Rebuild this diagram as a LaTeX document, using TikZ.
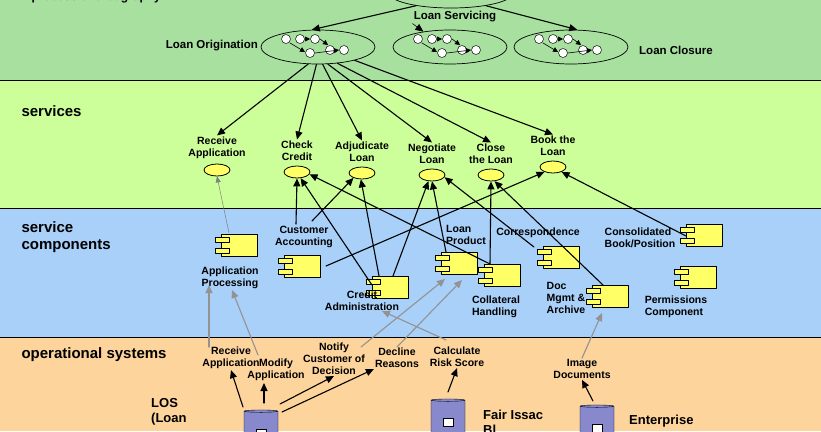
\documentclass[tikz,border=0pt]{standalone}
\usepackage{fontspec}
\setmainfont{Liberation Sans}
\usetikzlibrary{arrows.meta,shapes.geometric,calc}
\definecolor{bandtop}{HTML}{A8E0A0}
\definecolor{bandsrv}{HTML}{CCFF99}
\definecolor{bandcmp}{HTML}{A8D0F8}
\definecolor{bandops}{HTML}{FCD49C}
\definecolor{compyel}{HTML}{FFFF66}
\definecolor{dbblue}{HTML}{8888CC}
\tikzset{
  comp/.pic={
    \draw[fill=compyel,line width=0.8pt] (-18,-11) rectangle (18,11);
    \draw[fill=compyel,line width=0.8pt] (-24,-8) rectangle (-10,-3);
    \draw[fill=compyel,line width=0.8pt] (-24,3) rectangle (-10,8);
  },
  flow/.pic={
    \foreach \px/\py in {-32/-8,-18/-8,-3/-8,12/3,-8/6,26/3}
      \draw[fill=white,line width=0.5pt] (\px,\py) circle (4.5);
    \draw[-{Triangle[length=5pt,width=5pt]},line width=0.6pt] (-13,-8) -- (-8,-8);
    \draw[-{Triangle[length=5pt,width=5pt]},line width=0.6pt] (2,-8) -- (10,-2);
    \draw[-{Triangle[length=5pt,width=5pt]},line width=0.6pt] (-28,-4) -- (-13,5);
    \draw[-{Triangle[length=5pt,width=5pt]},line width=0.6pt] (-3,6) -- (21,3);
  }
}
\begin{document}
\begin{tikzpicture}[x=1pt,y=-1pt,line cap=round,line join=round,
  lbl/.style={font=\bfseries\fontsize{10.5}{12}\selectfont,align=center,inner sep=1pt},
  band/.style={font=\bfseries\fontsize{15}{17}\selectfont,align=left,anchor=west},
  svc/.style={ellipse,draw,fill=compyel,line width=0.8pt,minimum width=26pt,minimum height=12pt,inner sep=0pt},
  proc/.style={ellipse,draw,line width=0.7pt,minimum width=114pt,minimum height=34pt},
  db/.style={cylinder,shape border rotate=90,aspect=0.35,draw,fill=dbblue,minimum width=34pt,minimum height=44pt},
  blk/.style={-{Triangle[length=8pt,width=7pt]},line width=1.1pt},
  gry/.style={-{Triangle[length=8pt,width=7pt]},line width=1.1pt,draw=gray!85,color=gray!85}]
\useasboundingbox (0,0) rectangle (821,431);
\fill[bandtop] (0,0) rectangle (821,80);
\fill[bandsrv] (0,80) rectangle (821,208);
\fill[bandcmp] (0,208) rectangle (821,337);
\fill[bandops] (0,337) rectangle (821,431);
\draw[line width=0.8pt] (0,80) -- (821,80) (0,208) -- (821,208) (0,337) -- (821,337);
% band titles
\node[band,font=\bfseries\fontsize{12}{13}\selectfont] at (28,-3) {process choreography};
\node[band] at (18,111) {services};
\node[band] at (18,237) {service\\components};
\node[band] at (18,355) {operational systems};
% process choreography
\node[proc,minimum width=124pt,minimum height=30pt] (orch) at (451,-7) {};
\node[proc] (orig) at (318,47) {};
\node[proc] (serv) at (450,47) {};
\node[proc] (clos) at (571,47) {};
\foreach \p in {orig,serv,clos} \pic at (\p) {flow};
\node[lbl,anchor=east,font=\bfseries\fontsize{11.5}{13}\selectfont] (origl) at (259,46) {Loan Origination};
\node[lbl,font=\bfseries\fontsize{11.5}{13}\selectfont] (servl) at (455,17) {Loan Servicing};
\node[lbl,anchor=west,font=\bfseries\fontsize{11.5}{13}\selectfont] (closl) at (638,50) {Loan Closure};
\draw[blk] (orch.200) -- (orig.110);
\draw[blk] (orch.340) -- (clos.70);
\draw[blk,line width=0.6pt] (servl.south west) -- (serv.150);
% services
\node[svc] (rcv) at (217,170) {};
\node[svc] (chk) at (297,172) {};
\node[svc] (adj) at (362,173) {};
\node[svc] (neg) at (432,175) {};
\node[svc] (cls) at (491,175) {};
\node[svc] (book) at (553,167) {};
\node[lbl,above=4pt] (rcvl) at (rcv.north) {Receive\\Application};
\node[lbl,above=4pt] (chkl) at (chk.north) {Check\\Credit};
\node[lbl,above=4pt] (adjl) at (adj.north) {Adjudicate\\Loan};
\node[lbl,above=4pt] (negl) at (neg.north) {Negotiate\\Loan};
\node[lbl,above=4pt] (clsl) at (cls.north) {Close\\the Loan};
\node[lbl,above=4pt] (bookl) at (book.north) {Book the\\Loan};
\foreach \a/\t in {240/rcvl,265/chkl,285/adjl,300/negl,320/clsl,340/bookl}
  \draw[blk] (orig.\a) -- (\t.north);
% service components
\coordinate (app) at (239,245);
\coordinate (cacc) at (302,266);
\coordinate (cadm) at (390,287);
\coordinate (lprd) at (459,263);
\coordinate (coll) at (502,275);
\coordinate (corr) at (561,257);
\coordinate (docm) at (610,296);
\coordinate (cons) at (704,235);
\coordinate (perm) at (698,277);
\foreach \c in {app,cacc,cadm,lprd,coll,corr,docm,cons,perm} \pic at (\c) {comp};
\node[lbl] (appl) at (230,278) {Application\\Processing};
\node[lbl] (caccl) at (304,237) {Customer\\Accounting};
\node[lbl] (cadml) at (362,301) {Credit\\Administration};
\node[lbl,align=left] (lprdl) at (466,235) {Loan\\Product};
\node[lbl,align=left] (colll) at (496,307) {Collateral\\Handling};
\node[lbl] (corrl) at (538,233) {Correspondence};
\node[lbl,align=left] (docml) at (566,298) {Doc\\Mgmt \&\\Archive};
\node[lbl,align=left] (consl) at (640,238) {Consolidated\\Book/Position};
\node[lbl,align=left] (perml) at (676,307) {Permissions\\Component};
\draw[-{Triangle[length=6pt,width=5pt]},gray,line width=0.5pt] (229,233) -- (rcv.south);
\draw[blk] (caccl.north) ++(-8,-1) -- (chk.south);
\draw[blk] (caccl.north) ++(8,-4) -- (adj.210);
\draw[blk] (372,285) -- (chk.-60);
\draw[blk] (379,276) -- (adj.260);
\draw[blk] (393,276) -- (neg.240);
\draw[blk] (446,252) -- (neg.270);
\draw[blk] (490,264) -- (chk.-10);
\draw[blk] (534,247) -- (neg.-10);
\draw[blk] (490,264) -- (cls.270);
\draw[blk] (603,285) -- (cls.300);
\draw[blk] (326,266) -- (book.210);
\draw[blk] (686,236) -- (book.-30);
% operational systems
\node[lbl] (orcv) at (231,358) {Receive\\Application};
\node[lbl] (omod) at (276,370) {Modify\\Application};
\node[lbl] (onot) at (334,359) {Notify\\Customer of\\Decision};
\node[lbl] (odec) at (397,358) {Decline\\Reasons};
\node[lbl] (ocalc) at (457,357) {Calculate\\Risk Score};
\node[lbl] (oimg) at (582,369) {Image\\Documents};
\node[db] (los) at (261,433) {};
\node[db] (fair) at (448,422) {};
\node[db] (ent) at (597,428) {};
\foreach \d in {los,fair,ent}
  \draw[fill=white] ($(\d.center)+(-5,-4)$) rectangle ($(\d.center)+(5,4)$);
\node[lbl,anchor=north west,font=\bfseries\fontsize{13}{15}\selectfont,align=left] at (150,397) {LOS\\(Loan};
\node[lbl,anchor=north west,font=\bfseries\fontsize{13}{15}\selectfont,align=left] at (482,409) {Fair Issac\\Bl};
\node[lbl,anchor=north west,font=\bfseries\fontsize{13}{15}\selectfont,align=left] at (628,414) {Enterprise};
\draw[blk] (243,407) -- (orcv.south);
\draw[blk] (264,403) -- (264,383);
\draw[blk] (280,404) -- (onot.south);
\draw[blk] (282,412) -- (odec.south west);
\draw[blk] (448,392) -- (ocalc.south);
\draw[blk] (593,401) -- (oimg.south);
\draw[gry] (209,347) -- (209,285);
\draw[gry] (258,355) -- (232,290);
\draw[gry] (361,347) -- (445,279);
\draw[gry] (397,347) -- (462,280);
\draw[gry] (446,340) -- (382,311);
\draw[gry] (oimg.north) -- (602,313);
\end{tikzpicture}
\end{document}
